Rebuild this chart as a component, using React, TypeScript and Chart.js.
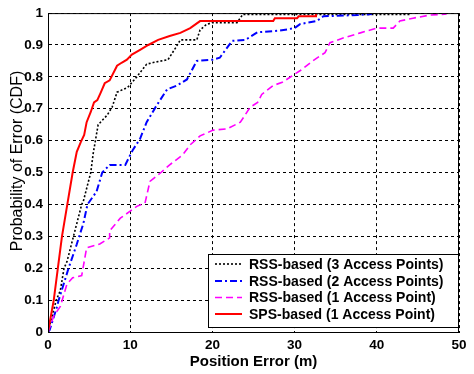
import React, { useEffect, useRef } from "react";
import { Chart, registerables } from "chart.js";

Chart.register(...registerables);

// ---- data ----
const xTicks = [0, 10, 20, 30, 40, 50];
const yTicks = [0, 0.1, 0.2, 0.3, 0.4, 0.5, 0.6, 0.7, 0.8, 0.9, 1];

const seriesNames = [
  "RSS-based (3 Access Points)",
  "RSS-based (2 Access Points)",
  "RSS-based (1 Access Point)",
  "SPS-based (1 Access Point)",
];

const rss3X = [0, 0.5, 1.0, 1.5, 1.95, 2.3, 3.1, 4.1, 4.3, 5.2, 5.5, 6.1, 7.2, 7.8, 8.4, 9.7, 10.8, 12, 12.8, 14.6, 15.5, 16.1, 18.1, 18.5, 19.3, 20, 23, 23.7, 44];
const rss3Y = [0, 0.05, 0.1, 0.13, 0.2, 0.22, 0.3, 0.4, 0.41, 0.5, 0.56, 0.65, 0.68, 0.705, 0.752, 0.767, 0.8, 0.84, 0.845, 0.854, 0.89, 0.916, 0.916, 0.947, 0.965, 0.97, 0.97, 0.996, 0.996];

const rss2X = [0, 0.2, 1.1, 1.3, 1.9, 2.5, 3.5, 3.8, 4.3, 4.8, 5.9, 6.6, 7.5, 9.4, 10.3, 11.2, 12, 13.2, 14.5, 15.7, 16.9, 18.1, 20, 20.9, 22.4, 24, 25.5, 28.2, 30, 30.7, 32.7, 33.5, 37.7, 39.4];
const rss2Y = [0, 0.006, 0.08, 0.1, 0.15, 0.2, 0.275, 0.3, 0.34, 0.4, 0.44, 0.5, 0.524, 0.524, 0.57, 0.606, 0.658, 0.71, 0.761, 0.773, 0.792, 0.85, 0.854, 0.86, 0.913, 0.916, 0.94, 0.945, 0.953, 0.966, 0.975, 0.99, 0.994, 0.997];

const rss1X = [0, 0.7, 1.5, 2.3, 3.0, 4.1, 4.7, 6.3, 7.5, 7.5, 8.8, 10, 10.8, 11.8, 12.4, 13.6, 14.8, 16.4, 17.3, 18.5, 20.1, 21.8, 23.4, 24.6, 25.5, 26, 27.4, 28.5, 29.4, 30.7, 32.2, 33.7, 34.3, 35.9, 38, 40, 42, 42.8, 44.4, 46.5, 48.5];
const rss1Y = [0, 0.05, 0.08, 0.15, 0.17, 0.177, 0.264, 0.276, 0.295, 0.317, 0.357, 0.379, 0.394, 0.404, 0.472, 0.497, 0.524, 0.556, 0.587, 0.615, 0.633, 0.637, 0.658, 0.705, 0.72, 0.745, 0.773, 0.783, 0.798, 0.82, 0.85, 0.876, 0.907, 0.922, 0.938, 0.953, 0.953, 0.975, 0.984, 0.994, 0.997];

const spsX = [0, 0.7, 1.2, 1.7, 2.35, 3.0, 3.5, 4.0, 4.4, 4.7, 5.2, 5.6, 6.0, 6.4, 6.9, 7.5, 8.4, 9.0, 9.6, 10.2, 11.2, 12.2, 13.4, 14.8, 16.1, 17.3, 18.5, 27.4, 27.6, 30.3, 30.5, 32.5, 32.6];
const spsY = [0, 0.1, 0.2, 0.3, 0.4, 0.5, 0.565, 0.596, 0.618, 0.658, 0.69, 0.72, 0.727, 0.75, 0.78, 0.789, 0.835, 0.845, 0.854, 0.87, 0.885, 0.9, 0.916, 0.928, 0.938, 0.953, 0.975, 0.975, 0.984, 0.984, 0.99, 0.99, 0.997];

const colors = ["#000000", "#0000ff", "#ff00ff", "#ff0000"];
const dashes = [[2, 2], [7, 3, 2, 3], [7, 4], []];
const widths = [1.6, 2, 1.6, 2];

function pts(xs: number[], ys: number[]) {
  return xs.map((x, i) => ({ x, y: ys[i] }));
}

const framePlugin = {
  id: "frameAndExtras",
  afterDatasetsDraw(chart: any) {
    const { ctx, chartArea } = chart;
    ctx.save();
    // frame
    ctx.strokeStyle = "#000";
    ctx.lineWidth = 1;
    ctx.setLineDash([]);
    ctx.strokeRect(chartArea.left + 0.5, chartArea.top + 0.5, chartArea.right - chartArea.left - 1, chartArea.bottom - chartArea.top);

    // legend
    const lx = 208, ly = 254, lw = 250, lh = 73;
    ctx.fillStyle = "#ffffff";
    ctx.fillRect(lx, ly, lw, lh);
    ctx.strokeRect(lx + 0.5, ly + 0.5, lw, lh);
    const rowY = [264, 281, 297.5, 314];
    ctx.font = "bold 14px Arial, 'Liberation Sans', sans-serif";
    ctx.textBaseline = "middle";
    ctx.textAlign = "left";
    for (let i = 0; i < seriesNames.length; i++) {
      ctx.beginPath();
      ctx.strokeStyle = colors[i];
      ctx.lineWidth = widths[i];
      ctx.setLineDash(dashes[i]);
      ctx.moveTo(215, rowY[i]);
      ctx.lineTo(242, rowY[i]);
      ctx.stroke();
      ctx.setLineDash([]);
      ctx.fillStyle = "#000";
      ctx.fillText(seriesNames[i], 249, rowY[i] + 1);
    }

    // y title
    ctx.save();
    ctx.translate(17.5, 161);
    ctx.rotate(-Math.PI / 2);
    ctx.font = "16px Arial, 'Liberation Sans', sans-serif";
    ctx.textAlign = "center";
    ctx.textBaseline = "middle";
    ctx.fillStyle = "#000";
    ctx.fillText("Probability of Error (CDF)", 0, 0);
    ctx.restore();
    ctx.restore();
  },
};

export default function App() {
  const ref = useRef<HTMLCanvasElement | null>(null);
  useEffect(() => {
    if (!ref.current) return;
    const tickFont = { family: "Arial, 'Liberation Sans', sans-serif", size: 13.5, weight: "bold" as const };
    const chart = new Chart(ref.current, {
      type: "line",
      data: {
        datasets: [
          { label: seriesNames[0], data: pts(rss3X, rss3Y), order: 3 },
          { label: seriesNames[1], data: pts(rss2X, rss2Y), order: 2 },
          { label: seriesNames[2], data: pts(rss1X, rss1Y), order: 1 },
          { label: seriesNames[3], data: pts(spsX, spsY), order: 0 },
        ].map((d, i) => ({
          ...d,
          borderColor: colors[i],
          backgroundColor: colors[i],
          borderWidth: widths[i],
          borderDash: dashes[i],
          pointRadius: 0,
          fill: false,
          tension: 0,
        })),
      },
      options: {
        animation: false,
        responsive: false,
        maintainAspectRatio: false,
        layout: { padding: { top: 10, right: 15, left: 0, bottom: 0 } },
        plugins: { legend: { display: false }, tooltip: { enabled: false }, title: { display: false } },
        scales: {
          x: {
            type: "linear",
            min: 0,
            max: 50,
            afterBuildTicks: (s: any) => { s.ticks = xTicks.map((v) => ({ value: v })); },
            afterFit: (s: any) => { s.height = 42; },
            ticks: { font: tickFont, color: "#000", padding: 5, maxRotation: 0, callback: (v: any) => String(v) },
            grid: { color: "#000", lineWidth: 1, drawTicks: false },
            border: { display: true, color: "#000", width: 1, dash: [3, 3] },
            title: {
              display: true,
              text: "Position Error (m)",
              color: "#000",
              font: { family: "Arial, 'Liberation Sans', sans-serif", size: 15, weight: "bold" },
              padding: { top: 0, bottom: 3 },
            },
          },
          y: {
            type: "linear",
            min: 0,
            max: 1,
            afterBuildTicks: (s: any) => { s.ticks = yTicks.map((v) => ({ value: v })); },
            afterFit: (s: any) => { s.width = 48; },
            ticks: { font: tickFont, color: "#000", padding: 5, callback: (v: any) => String(Number(Number(v).toFixed(1))) },
            grid: { color: "#000", lineWidth: 1, drawTicks: false },
            border: { display: true, color: "#000", width: 1, dash: [3, 3] },
          },
        },
      },
      plugins: [framePlugin],
    });
    return () => chart.destroy();
  }, []);
  return (
    <div style={{ position: "absolute", left: 0, top: 0, width: 474, height: 374, background: "#fff" }}>
      <canvas ref={ref} width={474} height={374} style={{ width: 474, height: 374 }} />
    </div>
  );
}
